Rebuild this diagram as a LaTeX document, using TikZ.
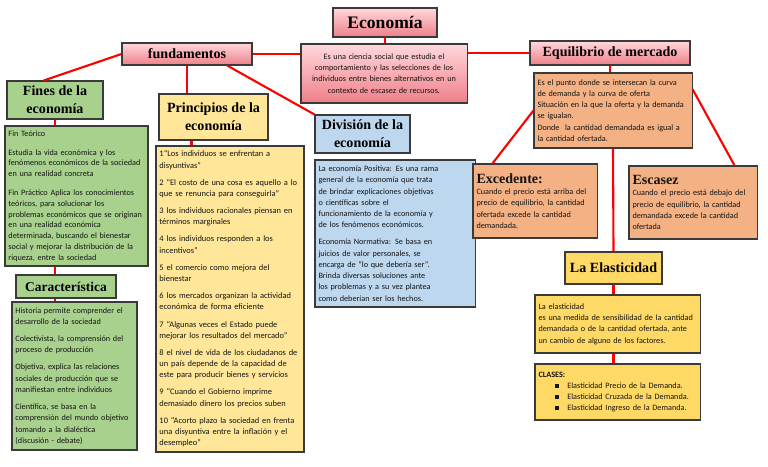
\documentclass[tikz,border=0pt]{standalone}
\usepackage{fontspec}
\setmainfont{Carlito}
\newfontfamily\headfont{Liberation Serif}
\usepackage{xcolor}
\usepackage{tikz}

\definecolor{pinkTop}{HTML}{FFD8DC}
\definecolor{pinkBot}{HTML}{EF7F89}
\definecolor{finesGreen}{HTML}{A9D18E}
\definecolor{princYellow}{HTML}{FFE699}
\definecolor{elastGold}{HTML}{FFD966}
\definecolor{divBlue}{HTML}{BDD7EE}
\definecolor{eqOrange}{HTML}{F4B183}
\definecolor{boxLine}{HTML}{3A3A3A}
\definecolor{linkRed}{HTML}{FF0000}

\begin{document}
\begin{tikzpicture}[
  x=0.03cm, y=-0.03cm,
  head/.style={draw=boxLine, line width=0.9pt, align=center, inner sep=2pt,
               font=\headfont\bfseries\fontsize{12}{15.5}\selectfont},
  pinkhead/.style={head, top color=pinkTop, bottom color=pinkBot},
  txt/.style={draw=boxLine, line width=0.9pt, align=left, inner xsep=3pt,
              inner ysep=3pt, text=black!92,
              font=\fontsize{7}{9.6}\selectfont},
  link/.style={draw=linkRed, line width=1.8pt}
]
  \path[use as bounding box] (0,0) rectangle (768,466);

  % top row
  \node[pinkhead, minimum width=3.12cm, minimum height=0.87cm,
        font=\headfont\bfseries\fontsize{15}{17}\selectfont]
    (econ) at (385,22.5) {Economía};
  \node[txt, align=center, top color=pinkTop, bottom color=pinkBot,
        text width=4.77cm, minimum height=1.77cm] (econdef) at (384,73.5)
    {Es una ciencia social que estudia el\\
     comportamiento y las selecciones de los\\
     individuos entre bienes alternativos en un\\
     contexto de escasez de recursos.};
  \node[pinkhead, minimum width=3.9cm, minimum height=0.66cm]
    (fund) at (187,54) {fundamentos};
  \node[pinkhead, minimum width=4.8cm, minimum height=0.72cm]
    (equil) at (610,53) {Equilibrio de mercado};

  % left column
  \node[head, fill=finesGreen, minimum width=2.88cm, minimum height=1.14cm]
    (fines) at (55,100) {Fines de la\\economía};
  \node[txt, fill=finesGreen, text width=4.08cm, minimum height=4.2cm,
        font=\fontsize{7}{9.2}\selectfont] (finestxt) at (76.5,196)
    {Fin Teórico\\[7pt]
     Estudia la vida económica y los\\
     fenómenos económicos de la sociedad\\
     en una realidad concreta\\[7pt]
     Fin Práctico Aplica los conocimientos\\
     teóricos, para solucionar los\\
     problemas económicos que se originan\\
     en una realidad económica\\
     determinada, buscando el bienestar\\
     social y mejorar la distribución de la\\
     riqueza, entre la sociedad};
  \node[head, fill=finesGreen, minimum width=3cm, minimum height=0.69cm,
        font=\headfont\bfseries\fontsize{11.5}{14}\selectfont]
    (carac) at (66,286.5) {Característica};
  \node[txt, fill=finesGreen, text width=3.54cm, minimum height=4.44cm]
    (caractxt) at (74.5,376)
    {Historia permite comprender el\\
     desarrollo de la sociedad\\[5pt]
     Colectivista, la comprensión del\\
     proceso de producción\\[5pt]
     Objetiva, explica las relaciones\\
     sociales de producción que se\\
     manifiestan entre individuos\\[5pt]
     Científica, se basa en la\\
     comprensión del mundo objetivo\\
     tomando a la dialéctica\\
     (discusión - debate)};

  % principios
  \node[head, fill=princYellow, minimum width=3.27cm, minimum height=1.38cm]
    (princ) at (213.5,117) {Principios de la\\economía};
  \node[txt, fill=princYellow, text width=4.23cm, minimum height=9.18cm,
        font=\fontsize{7.2}{9.6}\selectfont] (princtxt) at (230,299)
    {1“Los individuos se enfrentan a\\
     disyuntivas”\\[5pt]
     2 “El costo de una cosa es aquello a lo\\
     que se renuncia para conseguirla”\\[5pt]
     3 los individuos racionales piensan en\\
     términos marginales\\[5pt]
     4 los individuos responden a los\\
     incentivos”\\[5pt]
     5 el comercio como mejora del\\
     bienestar\\[5pt]
     6 los mercados organizan la actividad\\
     económica de forma eficiente\\[5pt]
     7 “Algunas veces el Estado puede\\
     mejorar los resultados del mercado”\\[5pt]
     8 el nivel de vida de los ciudadanos de\\
     un país depende de la capacidad de\\
     este para producir bienes y servicios\\[5pt]
     9 “Cuando el Gobierno imprime\\
     demasiado dinero los precios suben\\[5pt]
     10 “Acorto plazo la sociedad en frenta\\
     una disyuntiva entre la inflación y el\\
     desempleo”};

  % division
  \node[head, fill=divBlue, minimum width=2.85cm, minimum height=1.14cm]
    (divis) at (362.5,134) {División de la\\economía};
  \node[txt, fill=divBlue, text width=4.59cm, minimum height=4.41cm]
    (divistxt) at (395,233.5)
    {La economía Positiva: Es una rama\\
     general de la economía que trata\\
     de brindar explicaciones objetivas\\
     o científicas sobre el\\
     funcionamiento de la economía y\\
     de los fenómenos económicos.\\[5pt]
     Economía Normativa: Se basa en\\
     juicios de valor personales, se\\
     encarga de “lo que debería ser”.\\
     Brinda diversas soluciones ante\\
     los problemas y a su vez plantea\\
     como deberían ser los hechos.};

  % equilibrio
  \node[txt, fill=eqOrange, text width=4.53cm, minimum height=2.25cm]
    (equildef) at (613,110.5)
    {Es el punto donde se intersecan la curva\\
     de demanda y la curva de oferta\\
     Situación en la que la oferta y la demanda\\
     se igualan.\\
     Donde~ la cantidad demandada es igual a\\
     la cantidad ofertada.};
  \node[txt, fill=eqOrange, text width=3.51cm, minimum height=2.22cm]
    (exced) at (535,201)
    {{\headfont\bfseries\fontsize{12}{13}\selectfont Excedente:}\\
     Cuando el precio está arriba del\\
     precio de equilibrio, la cantidad\\
     ofertada excede la cantidad\\
     demandada.};
  \node[txt, fill=eqOrange, text width=3.63cm, minimum height=2.19cm]
    (escas) at (693,202.5)
    {{\headfont\bfseries\fontsize{12}{13}\selectfont Escasez}\\
     Cuando el precio está debajo del\\
     precio de equilibrio, la cantidad\\
     demandada excede la cantidad\\
     ofertada};

  % elasticidad
  \node[head, fill=elastGold, minimum width=2.91cm, minimum height=0.96cm]
    (elast) at (613.5,268) {La Elasticidad};
  \node[txt, fill=elastGold, text width=4.74cm, minimum height=1.74cm]
    (elastdef) at (617.5,324)
    {La elasticidad\\
     es una medida de sensibilidad de la cantidad\\
     demandada o de la cantidad ofertada, ante\\
     un cambio de alguno de los factores.};
  \node[txt, fill=elastGold, text width=4.74cm, minimum height=1.68cm]
    (clases) at (617.5,392)
    {\textbf{CLASES:}\\
     \hspace*{14pt}\rule[0.4pt]{3.6pt}{3.6pt}\hspace{7pt}Elasticidad Precio de la Demanda.\\
     \hspace*{14pt}\rule[0.4pt]{3.6pt}{3.6pt}\hspace{7pt}Elasticidad Cruzada de la Demanda.\\
     \hspace*{14pt}\rule[0.4pt]{3.6pt}{3.6pt}\hspace{7pt}Elasticidad Ingreso de la Demanda.};

  % connectors
  \draw[link] (econ.south) -- (econ.south |- econdef.north);
  \draw[link] (fund.east) -- (fund.east -| econdef.west);
  \draw[link] (econdef.east |- equil.west) -- (equil.west);
  \draw[link] (fund.west) -- (fines.120);
  \draw[link] (fund.south) -- (fund.south |- princ.north);
  \draw[link] (fund.-16) -- (divis.north west);
  \draw[link] (fines.south) -- (fines.south |- finestxt.north);
  \draw[link] (fines.south |- finestxt.south) -- (fines.south |- carac.north);
  \draw[link] (fines.south |- carac.south) -- (fines.south |- caractxt.north);
  \draw[link] ([xshift=0.99cm]princ.south west) coordinate (pp)
    -- (pp |- princtxt.north);
  \draw[link] (equil.south) -- (equil.south |- equildef.north);
  \draw[link] (equildef.west) -- ([xshift=0.6cm]exced.north west);
  \draw[link] (equildef.15) -- ([xshift=-0.69cm]escas.north east);
  \draw[link] (equildef.south) -- (elast.north);
  \draw[link] (elast.south) -- (elast.south |- elastdef.north);
  \draw[link] (elast.south |- elastdef.south) -- (elast.south |- clases.north);
\end{tikzpicture}
\end{document}
